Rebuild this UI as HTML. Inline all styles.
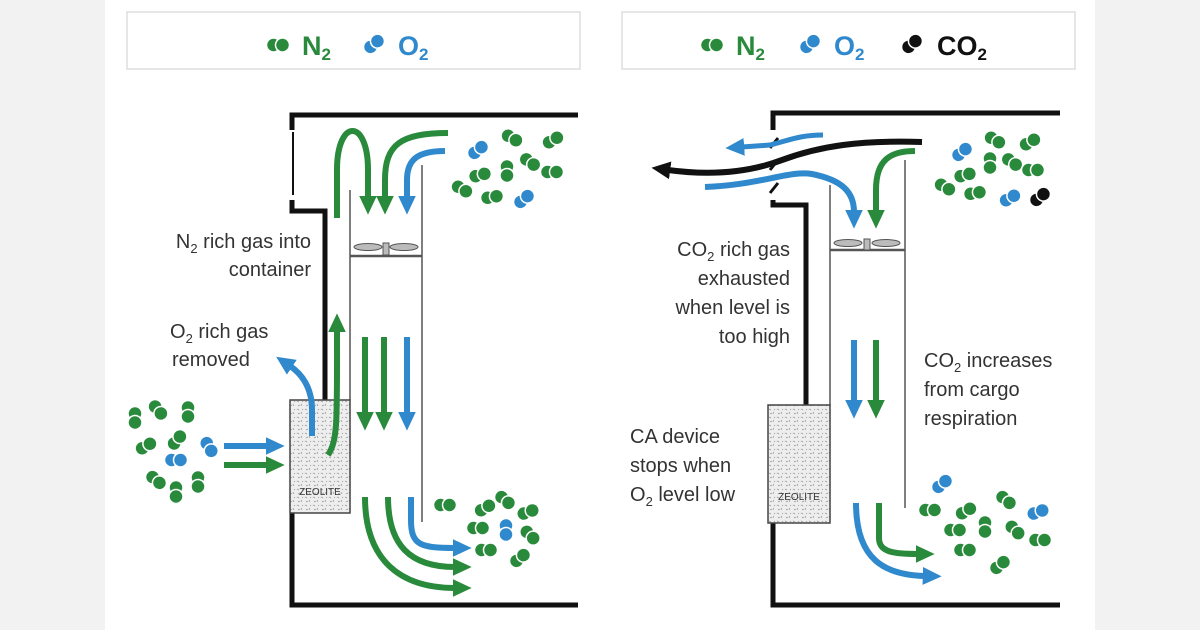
<!DOCTYPE html>
<html><head><meta charset="utf-8"><style>
html,body{margin:0;padding:0;background:#f2f2f2;}
svg{display:block}
text{font-family:"Liberation Sans",sans-serif;}
</style></head><body>
<svg width="1200" height="630" viewBox="0 0 1200 630" xmlns="http://www.w3.org/2000/svg">
<defs>
<marker id="ag" markerUnits="userSpaceOnUse" markerWidth="20" markerHeight="20" viewBox="0 -9 18 18" refX="2" refY="0" orient="auto"><path d="M0,-8 L17,0 L0,8 z" fill="#2a8a3c"/></marker>
<marker id="ab" markerUnits="userSpaceOnUse" markerWidth="20" markerHeight="20" viewBox="0 -9 18 18" refX="2" refY="0" orient="auto"><path d="M0,-8 L17,0 L0,8 z" fill="#2f89cc"/></marker>
<marker id="ak" markerUnits="userSpaceOnUse" markerWidth="20" markerHeight="20" viewBox="0 -9 18 18" refX="2" refY="0" orient="auto"><path d="M0,-8 L17,0 L0,8 z" fill="#111"/></marker>
<g id="mg"><circle cx="-4.5" cy="0" r="7" fill="#2a8a3c" stroke="#fff" stroke-width="1.5"/><circle cx="4.5" cy="0" r="7" fill="#2a8a3c" stroke="#fff" stroke-width="1.5"/></g>
<g id="mb"><circle cx="-4.5" cy="0" r="7" fill="#2f89cc" stroke="#fff" stroke-width="1.5"/><circle cx="4.5" cy="0" r="7" fill="#2f89cc" stroke="#fff" stroke-width="1.5"/></g>
<g id="mk"><circle cx="-4.5" cy="0" r="7" fill="#111" stroke="#fff" stroke-width="1.5"/><circle cx="4.5" cy="0" r="7" fill="#111" stroke="#fff" stroke-width="1.5"/></g>
<pattern id="st" width="8" height="8" patternUnits="userSpaceOnUse"><rect width="8" height="8" fill="#eee"/><path d="M1 1l2 1M5 4l1 2M2 6l2-1M6 1l1 1" stroke="#999" stroke-width="0.8"/></pattern>
</defs>
<rect x="105" y="0" width="990" height="630" fill="#fff"/>

<!-- legends -->
<rect x="127" y="12" width="453" height="57" fill="#fff" stroke="#ddd" stroke-width="1.5"/>
<use href="#mg" transform="translate(278,45)"/>
<text x="302" y="55" font-size="27" font-weight="bold" fill="#2a8a3c">N<tspan font-size="17" dy="5">2</tspan></text>
<use href="#mb" transform="translate(374,44) rotate(-40)"/>
<text x="398" y="55" font-size="27" font-weight="bold" fill="#2f89cc">O<tspan font-size="17" dy="5">2</tspan></text>

<rect x="622" y="12" width="453" height="57" fill="#fff" stroke="#ddd" stroke-width="1.5"/>
<use href="#mg" transform="translate(712,45)"/>
<text x="736" y="55" font-size="27" font-weight="bold" fill="#2a8a3c">N<tspan font-size="17" dy="5">2</tspan></text>
<use href="#mb" transform="translate(810,44) rotate(-40)"/>
<text x="834" y="55" font-size="27" font-weight="bold" fill="#2f89cc">O<tspan font-size="17" dy="5">2</tspan></text>
<use href="#mk" transform="translate(912,44) rotate(-40)"/>
<text x="937" y="55" font-size="27" font-weight="bold" fill="#111">CO<tspan font-size="17" dy="5">2</tspan></text>

<!-- LEFT container -->
<g fill="none" stroke="#111" stroke-linecap="butt">
<path d="M292 130 V115 H578" stroke-width="5"/>
<path d="M293 132 V195" stroke-width="2"/>
<path d="M292 200 V211 H325 V400" stroke-width="5"/>
<path d="M292 513 V605 H578" stroke-width="5"/>
</g>
<g stroke="#555" stroke-width="1.5" fill="none">
<path d="M350 190 V400"/>
<path d="M422 165 V522"/>
<path d="M350 256 H422" stroke-width="2.5"/>
</g>
<g fill="#bbb" stroke="#555" stroke-width="1">
<ellipse cx="368" cy="247" rx="14" ry="3.5"/><ellipse cx="404" cy="247" rx="14" ry="3.5"/>
<rect x="383" y="243" width="6" height="12"/>
</g>
<rect x="290" y="400" width="60" height="113" fill="url(#st)" stroke="#444" stroke-width="1.5"/>
<text x="320" y="495" font-size="10" fill="#333" text-anchor="middle">ZEOLITE</text>

<g fill="none" stroke-width="6">
<path d="M337 218 L337 170 C337 118 368 118 368 170 L368 198" stroke="#2a8a3c" marker-end="url(#ag)"/>
<path d="M448 133 C400 133 385 145 385 180 L385 198" stroke="#2a8a3c" marker-end="url(#ag)"/>
<path d="M445 151 C417 151 407 160 407 180 L407 198" stroke="#2f89cc" marker-end="url(#ab)"/>
<path d="M328 455 C338 440 337 420 337 330" stroke="#2a8a3c" marker-end="url(#ag)"/>
<path d="M312 436 L312 410 C312 388 302 374 290 366" stroke="#2f89cc" marker-end="url(#ab)"/>
<path d="M365 337 V414" stroke="#2a8a3c" marker-end="url(#ag)"/>
<path d="M384 337 V414" stroke="#2a8a3c" marker-end="url(#ag)"/>
<path d="M407 337 V414" stroke="#2f89cc" marker-end="url(#ab)"/>
<path d="M224 446 H268" stroke="#2f89cc" marker-end="url(#ab)"/>
<path d="M224 465 H268" stroke="#2a8a3c" marker-end="url(#ag)"/>
<path d="M365 497 C365 560 400 588 455 588" stroke="#2a8a3c" marker-end="url(#ag)"/>
<path d="M388 497 C388 545 410 567 455 567" stroke="#2a8a3c" marker-end="url(#ag)"/>
<path d="M411 497 L411 520 C411 545 420 548 455 548" stroke="#2f89cc" marker-end="url(#ab)"/>
</g>

<g font-size="20" fill="#333">
<text x="311" y="248" text-anchor="end">N<tspan font-size="13" dy="5">2</tspan><tspan dy="-5"> rich gas into</tspan></text>
<text x="311" y="276" text-anchor="end">container</text>
<text x="170" y="338">O<tspan font-size="13" dy="5">2</tspan><tspan dy="-5"> rich gas</tspan></text>
<text x="172" y="366">removed</text>
</g>

<!-- left molecules -->
<use href="#mb" transform="translate(478,150) rotate(-40)"/>
<use href="#mg" transform="translate(512,138) rotate(30)"/>
<use href="#mg" transform="translate(553,140) rotate(-30)"/>
<use href="#mg" transform="translate(507,171) rotate(90)"/>
<use href="#mg" transform="translate(530,162) rotate(35)"/>
<use href="#mg" transform="translate(552,172) rotate(0)"/>
<use href="#mg" transform="translate(480,175) rotate(-15)"/>
<use href="#mg" transform="translate(462,189) rotate(30)"/>
<use href="#mg" transform="translate(492,197) rotate(-10)"/>
<use href="#mb" transform="translate(524,199) rotate(-40)"/>

<use href="#mg" transform="translate(135,418) rotate(90)"/>
<use href="#mg" transform="translate(158,410) rotate(50)"/>
<use href="#mg" transform="translate(188,412) rotate(90)"/>
<use href="#mg" transform="translate(146,446) rotate(-30)"/>
<use href="#mg" transform="translate(177,440) rotate(-50)"/>
<use href="#mb" transform="translate(176,460) rotate(0)"/>
<use href="#mb" transform="translate(209,447) rotate(60)"/>
<use href="#mg" transform="translate(156,480) rotate(40)"/>
<use href="#mg" transform="translate(176,492) rotate(90)"/>
<use href="#mg" transform="translate(198,482) rotate(90)"/>

<use href="#mg" transform="translate(445,505) rotate(0)"/>
<use href="#mg" transform="translate(485,508) rotate(-30)"/>
<use href="#mg" transform="translate(505,500) rotate(40)"/>
<use href="#mg" transform="translate(528,512) rotate(-20)"/>
<use href="#mg" transform="translate(478,528) rotate(0)"/>
<use href="#mb" transform="translate(506,530) rotate(90)"/>
<use href="#mg" transform="translate(530,535) rotate(45)"/>
<use href="#mg" transform="translate(486,550) rotate(0)"/>
<use href="#mg" transform="translate(520,558) rotate(-40)"/>

<!-- RIGHT container -->
<g fill="none" stroke="#111">
<path d="M773 130 V113 H1060" stroke-width="5"/>
<path d="M770 148 L778 138 M770 170 L778 160 M770 193 L778 183" stroke-width="3"/>
<path d="M773 200 V205 H806 V405" stroke-width="5"/>
<path d="M773 523 V605 H1060" stroke-width="5"/>
</g>
<g stroke="#555" stroke-width="1.5" fill="none">
<path d="M830 185 V405"/>
<path d="M905 160 V508"/>
<path d="M830 250 H905" stroke-width="2.5"/>
</g>
<g fill="#bbb" stroke="#555" stroke-width="1">
<ellipse cx="848" cy="243" rx="14" ry="3.5"/><ellipse cx="886" cy="243" rx="14" ry="3.5"/>
<rect x="864" y="239" width="6" height="11"/>
</g>
<rect x="768" y="405" width="62" height="118" fill="url(#st)" stroke="#444" stroke-width="1.5"/>
<text x="799" y="500" font-size="10" fill="#333" text-anchor="middle">ZEOLITE</text>

<g fill="none" stroke-width="6">
<path d="M922 142 C860 140 820 146 782 160 C745 174 705 175 668 170" stroke="#111" marker-end="url(#ak)"/>
<path d="M823 135 C800 135 790 140 770 145 L742 147" stroke="#2f89cc" stroke-width="5" marker-end="url(#ab)"/>
<path d="M705 187 C760 185 790 170 812 174 C842 180 854 192 854 212" stroke="#2f89cc" marker-end="url(#ab)"/>
<path d="M915 151 C890 151 876 160 876 190 L876 212" stroke="#2a8a3c" marker-end="url(#ag)"/>
<path d="M854 340 V402" stroke="#2f89cc" marker-end="url(#ab)"/>
<path d="M876 340 V402" stroke="#2a8a3c" marker-end="url(#ag)"/>
<path d="M856 503 C856 560 885 575 925 576" stroke="#2f89cc" marker-end="url(#ab)"/>
<path d="M879 503 L879 538 C879 552 893 554 918 554" stroke="#2a8a3c" marker-end="url(#ag)"/>
</g>

<g font-size="20" fill="#333">
<text x="790" y="256" text-anchor="end">CO<tspan font-size="13" dy="5">2</tspan><tspan dy="-5"> rich gas</tspan></text>
<text x="790" y="285" text-anchor="end">exhausted</text>
<text x="790" y="314" text-anchor="end">when level is</text>
<text x="790" y="343" text-anchor="end">too high</text>
<text x="924" y="367">CO<tspan font-size="13" dy="5">2</tspan><tspan dy="-5"> increases</tspan></text>
<text x="924" y="396">from cargo</text>
<text x="924" y="425">respiration</text>
<text x="630" y="443">CA device</text>
<text x="630" y="472">stops when</text>
<text x="630" y="501">O<tspan font-size="13" dy="5">2</tspan><tspan dy="-5"> level low</tspan></text>
</g>

<use href="#mb" transform="translate(962,152) rotate(-40)"/>
<use href="#mg" transform="translate(995,140) rotate(30)"/>
<use href="#mg" transform="translate(1030,142) rotate(-30)"/>
<use href="#mg" transform="translate(990,163) rotate(90)"/>
<use href="#mg" transform="translate(1012,162) rotate(35)"/>
<use href="#mg" transform="translate(1033,170) rotate(0)"/>
<use href="#mg" transform="translate(965,175) rotate(-15)"/>
<use href="#mg" transform="translate(945,187) rotate(30)"/>
<use href="#mg" transform="translate(975,193) rotate(-10)"/>
<use href="#mb" transform="translate(1010,198) rotate(-30)"/>
<use href="#mk" transform="translate(1040,197) rotate(-40)"/>

<use href="#mb" transform="translate(942,484) rotate(-40)"/>
<use href="#mg" transform="translate(930,510) rotate(0)"/>
<use href="#mg" transform="translate(966,511) rotate(-30)"/>
<use href="#mg" transform="translate(1006,500) rotate(40)"/>
<use href="#mb" transform="translate(1038,512) rotate(-20)"/>
<use href="#mg" transform="translate(955,530) rotate(0)"/>
<use href="#mg" transform="translate(985,527) rotate(90)"/>
<use href="#mg" transform="translate(1015,530) rotate(45)"/>
<use href="#mg" transform="translate(1040,540) rotate(0)"/>
<use href="#mg" transform="translate(965,550) rotate(0)"/>
<use href="#mg" transform="translate(1000,565) rotate(-40)"/>
</svg>
</body></html>
